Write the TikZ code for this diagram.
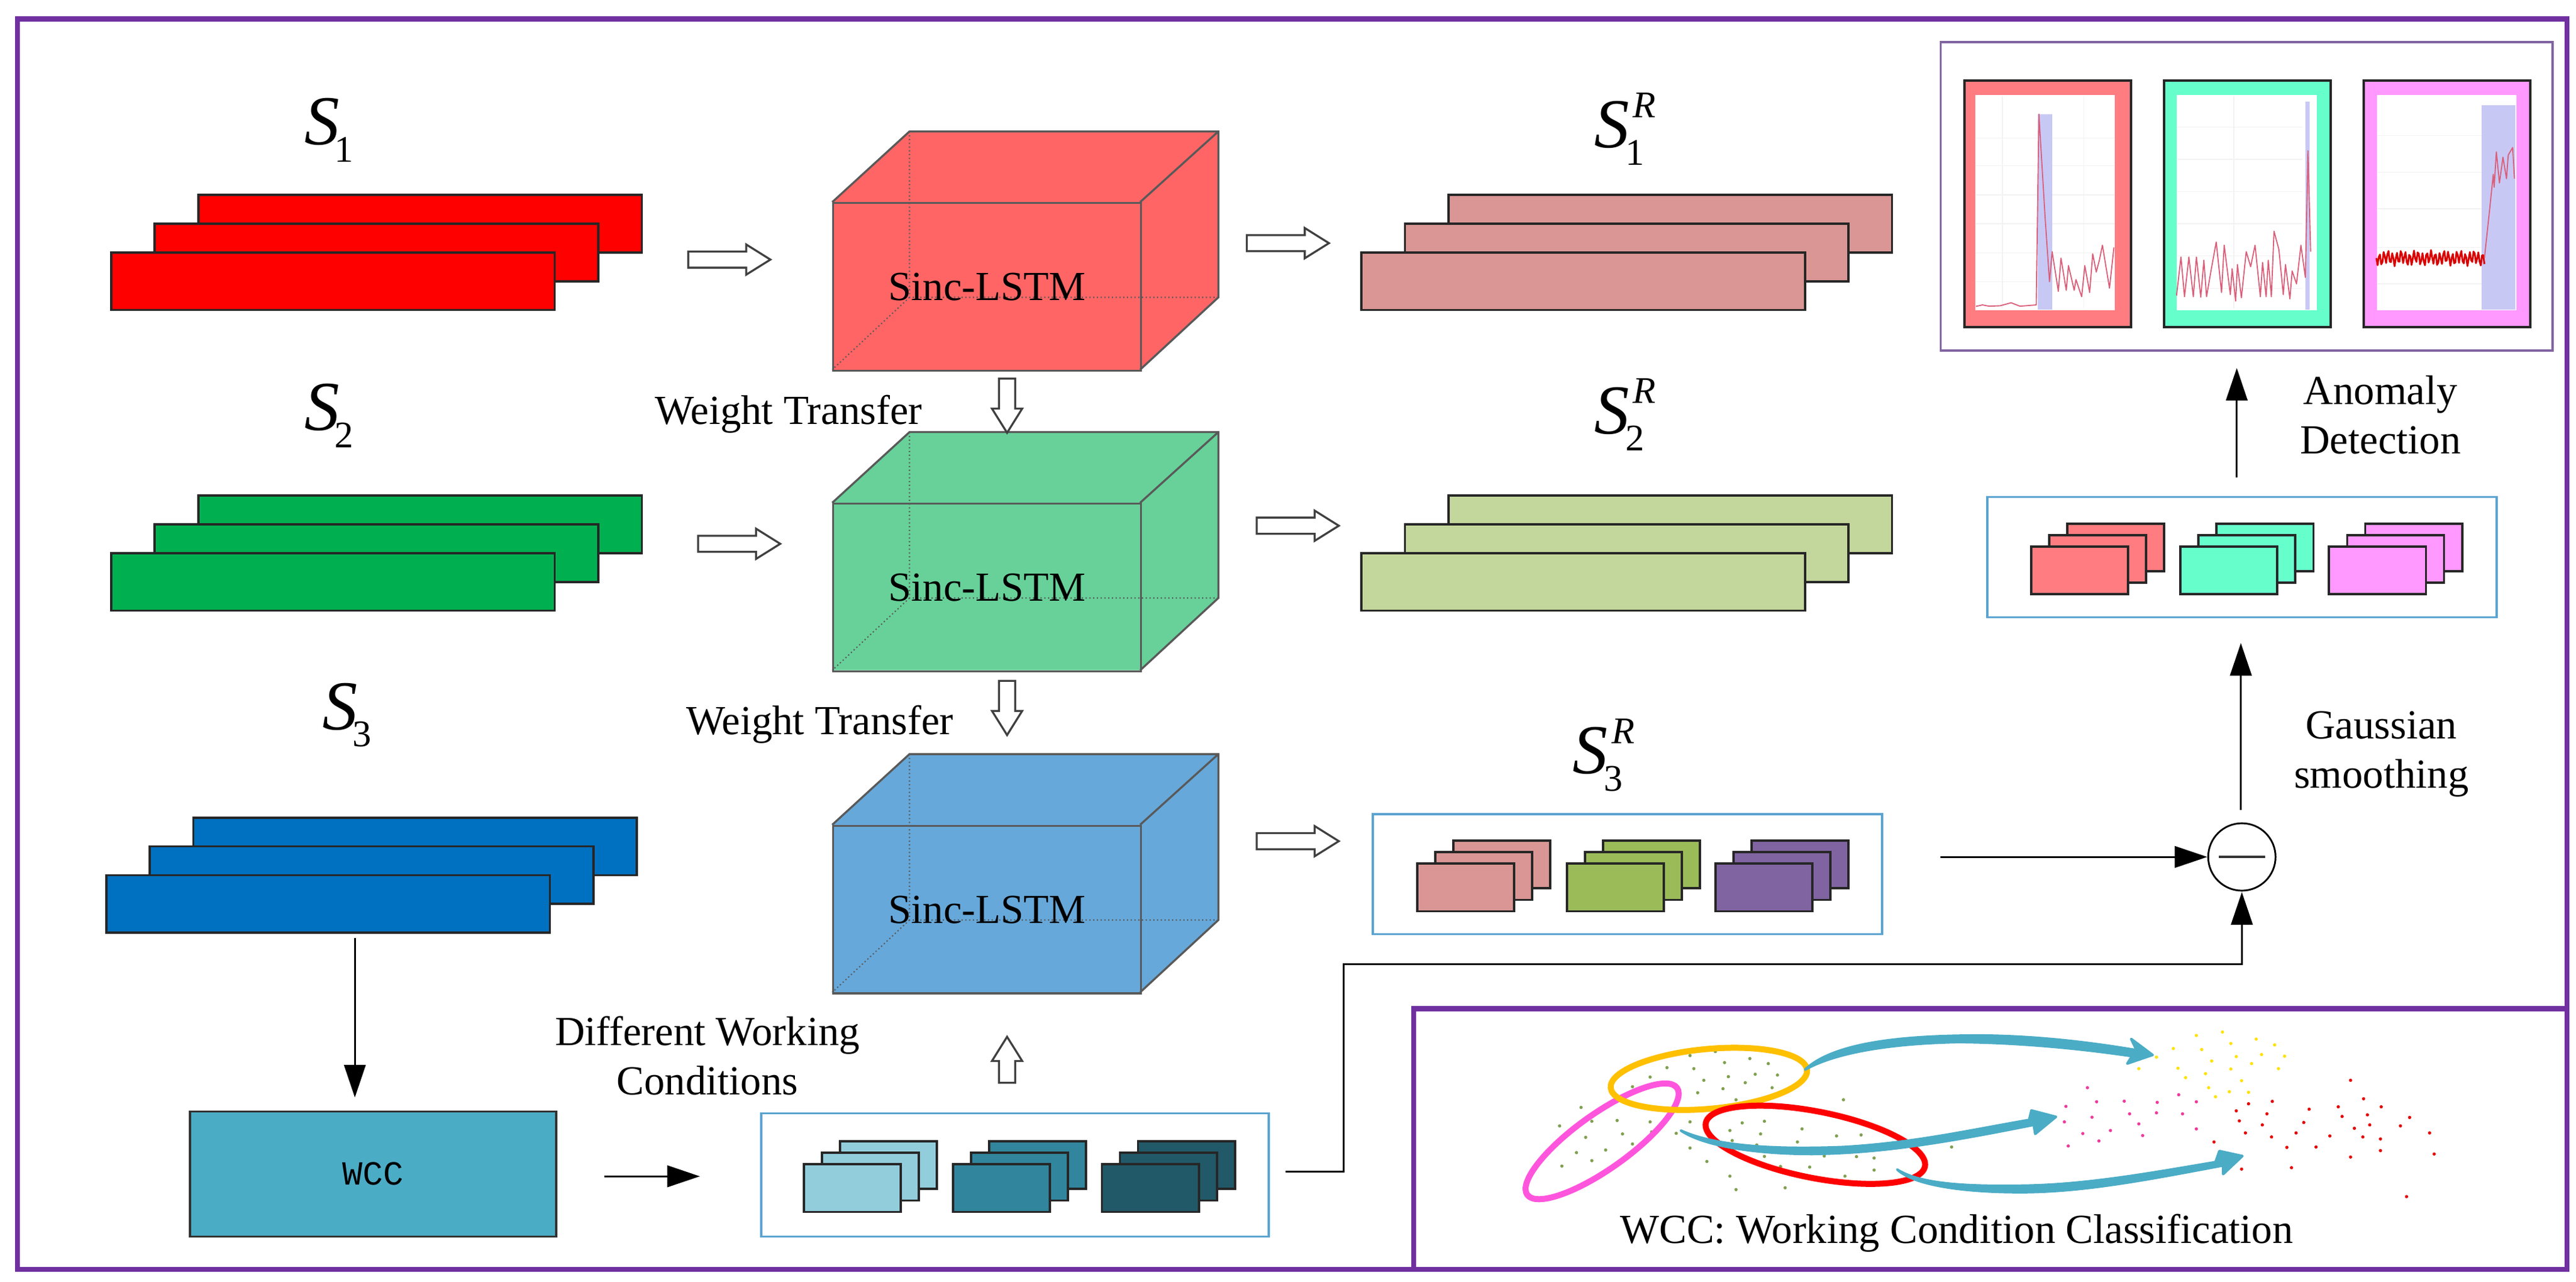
\documentclass[tikz,border=0pt]{standalone}
\usepackage{fontspec}
\setmainfont{Liberation Serif}
\newfontfamily\wccfont{Liberation Mono}
\usetikzlibrary{arrows.meta,shapes.arrows,calc}
\def\uu{0.6557pt}
\definecolor{framepurple}{HTML}{7030A0}
\definecolor{panelpurple}{HTML}{8064A2}
\definecolor{boxblue}{HTML}{5BA3D0}
\definecolor{wteal}{HTML}{4BACC6}
\definecolor{curvecol}{HTML}{D9607A}
\definecolor{hicol}{HTML}{C8C8F5}
\definecolor{dotgreen}{HTML}{7FA050}
\tikzset{
  txt/.style={inner sep=0pt,font=\fontsize{16.5}{18}\selectfont,text=black},
  card/.style={draw=black!85,line width=0.9pt,anchor=north west,inner sep=0pt,minimum width=#1},
  group/.style={draw=boxblue,line width=0.8pt,anchor=north west,inner sep=0pt},
  openarrow/.style={single arrow,draw=black!75,fill=white,line width=0.8pt,inner sep=0pt,
     text height=8.6*\uu,text depth=0pt,single arrow head extend=4.3*\uu,single arrow tip angle=64,
     single arrow head indent=0pt,minimum height=50*\uu},
  arr/.style={draw=black,line width=0.7pt,-{Triangle[length=13pt,width=8.6pt]}},
  gridl/.style={draw=black!5,line width=0.3pt},
  curve/.style={draw=curvecol,line width=0.45pt,line join=round},
  hi/.style={fill=hicol,draw=none},
  ring/.style={draw=#1,line width=2.4pt},
  sym/.style={inner sep=0pt,text=black,anchor=base west},
  flow/.style={fill=wteal,draw=wteal,line width=1pt,line join=round},
  plate/.style={draw=black!85,line width=0.9pt,anchor=north west,inner sep=0pt,minimum width=101.5*\uu,minimum height=150*\uu,fill=#1},
  whitep/.style={fill=white,draw=none,anchor=north west,inner sep=0pt,minimum width=85*\uu,minimum height=131*\uu}
}
\newcommand\widestack[4]{%
  \node[card=270*\uu,minimum height=35*\uu,fill=#4] (#1c) at (#2+53,#3-35) {};
  \node[card=270*\uu,minimum height=35*\uu,fill=#4] (#1b) at (#2+26.5,#3-17.5) {};
  \node[card=270*\uu,minimum height=35*\uu,fill=#4] (#1a) at (#2,#3) {};
}
\newcommand\smallstack[4]{%
  \node[card=59*\uu,minimum height=29*\uu,fill=#4] (#1c) at (#2+22,#3-14) {};
  \node[card=59*\uu,minimum height=29*\uu,fill=#4] (#1b) at (#2+11,#3-7) {};
  \node[card=59*\uu,minimum height=29*\uu,fill=#4] (#1a) at (#2,#3) {};
}
\newcommand\cube[3]{%
  \fill[#3] (506.6,#2+43) -- (553.6,#2) -- (741.6,#2) -- (741.6,#2+101) -- (694,#2+145) -- (506.6,#2+145) -- cycle;
  \draw[black!65,line width=0.5pt,densely dotted] (553.6,#2) -- (553.6,#2+101) -- (741.6,#2+101) (553.6,#2+101) -- (506.6,#2+145);
  \draw[black!65,line width=0.8pt] (506.6,#2+43) -- (553.6,#2) -- (741.6,#2) -- (741.6,#2+101) -- (694,#2+145) (694,#2+43) -- (741.6,#2);
  \node[draw=black!65,line width=0.8pt,anchor=north west,inner sep=0pt,minimum width=187.4*\uu,minimum height=102*\uu,txt] (#1) at (506.6,#2+43) {Sinc-LSTM};
}
\newcommand\Ssub[1]{{\fontsize{28}{30}\selectfont\itshape S}\hspace{-2pt}\raisebox{-6.9pt}{\fontsize{15}{16}\selectfont #1}}
\newcommand\SsubR[1]{{\fontsize{28}{30}\selectfont\itshape S}\rlap{\hspace{-1.5pt}\raisebox{-6.8pt}{\fontsize{15}{16}\selectfont #1}}\raisebox{12.2pt}{\fontsize{15}{16}\selectfont\itshape\hspace{1.5pt}R}}
\begin{document}
\begin{tikzpicture}[x=\uu,y=-\uu]
\useasboundingbox (0,0) rectangle (1568,780);
\fill[white] (0,0) rectangle (1568,780);

% outer frame
\node[draw=framepurple,line width=2pt,anchor=north west,inner sep=0pt,minimum width=1552*\uu,minimum height=761*\uu] (frame) at (9,10) {};

% input stacks
\widestack{ia}{67}{153}{red}
\definecolor{ingreen}{HTML}{00B050}
\definecolor{inblue}{HTML}{0070C0}
\widestack{ib}{67}{336}{ingreen}
\widestack{ic}{64}{532}{inblue}
\node[sym] (s1) at (185,88) {\Ssub{1}};
\node[sym] (s2) at (185,262) {\Ssub{2}};
\node[sym] (s3) at (196,444) {\Ssub{3}};

% cubes
\definecolor{cubered}{HTML}{FF6565}
\definecolor{cubegreen}{HTML}{67D199}
\definecolor{cubeblue}{HTML}{66A8DA}
\cube{c1}{80}{cubered}
\cube{c2}{263}{cubegreen}
\cube{c3}{459}{cubeblue}

% open arrows
\node[openarrow] (oa1) at (440,158) {};
\node[openarrow] (oa2) at (446,331) {};
\node[openarrow] (ob1) at (780,148) {};
\node[openarrow] (ob2) at (786,320) {};
\node[openarrow] (ob3) at (786,512) {};
\node[openarrow,rotate=-90,minimum height=33*\uu] (od1) at (613,243) {};
\node[openarrow,rotate=-90,minimum height=33*\uu] (od2) at (613,427) {};
\node[openarrow,rotate=90,minimum height=28*\uu] (od3) at (613,649) {};

% output stacks
\definecolor{outred}{HTML}{D99694}
\definecolor{outgreen}{HTML}{C3D69B}
\widestack{oa}{828}{153}{outred}
\widestack{ob}{828}{336}{outgreen}
\node[sym] (r1) at (970,90) {\SsubR{1}};
\node[sym] (r2) at (970,264) {\SsubR{2}};
\node[sym] (r3) at (957,471) {\SsubR{3}};

% S3R group
\node[group,minimum width=310*\uu,minimum height=73*\uu] (rgroup) at (835,495) {};
\definecolor{gpink}{HTML}{D99694}
\definecolor{gleaf}{HTML}{9BBB59}
\definecolor{gplum}{HTML}{8064A2}
\smallstack{ra}{862}{525}{gpink}
\smallstack{rb}{953}{525}{gleaf}
\smallstack{rc}{1043.5}{525}{gplum}

% detection group
\node[group,minimum width=310*\uu,minimum height=73*\uu] (dgroup) at (1209,302) {};
\definecolor{dred}{HTML}{FF7C80}
\definecolor{dgreen}{HTML}{66FFCC}
\definecolor{dpink}{HTML}{FF99FF}
\smallstack{da}{1235.7}{332}{dred}
\smallstack{db}{1326.5}{332}{dgreen}
\smallstack{dc}{1417}{332}{dpink}

% conditions group
\node[group,minimum width=309*\uu,minimum height=75*\uu] (cgroup) at (462.7,677) {};
\definecolor{ca}{HTML}{92CDDC}
\definecolor{cb}{HTML}{31859C}
\definecolor{cc}{HTML}{215968}
\smallstack{ca}{488.6}{708}{ca}
\smallstack{cb}{579.4}{708}{cb}
\smallstack{cc}{670}{708}{cc}

% WCC
\node[draw=black!80,fill=wteal,line width=0.8pt,anchor=north west,inner sep=0pt,minimum width=223*\uu,minimum height=76*\uu,font=\wccfont\fontsize{13.5}{15}\selectfont] (wcc) at (115,676) {WCC};

% subtractor
\node[draw=black,fill=white,circle,line width=0.7pt,minimum size=41*\uu,inner sep=0pt] (minus) at (1364.6,521.6) {};
\draw[black!80,line width=1pt] ($(minus.center)+(-14,0)$) coordinate (m1) -- ($(minus.center)+(14,0)$) coordinate (m2);

% connectors
\coordinate (ic0) at (216,571);
\coordinate (ic1) at (216,668);
\draw[arr] (ic0) -- (ic1);
\coordinate (wr0) at (368,716);
\coordinate (wr1) at (426,716);
\draw[arr] (wr0) -- (wr1);
\coordinate (rg0) at (1181,521.6);
\draw[arr] (rg0) -- (minus.west);
\coordinate (cg0) at (782.5,713);
\coordinate (cg1) at (818,713);
\coordinate (cg2) at (818,587);
\coordinate (cg3) at (1364.6,587);
\coordinate (mbot) at (1364.6,543);
\draw[arr,line join=miter] (cg0) -- (cg1) -- (cg2) -- (cg3) -- (mbot);
\coordinate (mt0) at (1364,493);
\coordinate (mt1) at (1364,391.4);
\draw[arr] (mt0) -- (mt1);
\coordinate (dg0) at (1361.5,290.6);
\coordinate (dg1) at (1361.5,224);
\draw[arr] (dg0) -- (dg1);

% labels
\node[txt] (wt1) at (480,252) {Weight Transfer};
\node[txt] (wt2) at (499,441) {Weight Transfer};
\node[txt,align=center,font=\fontsize{16.5}{19.7}\selectfont] (dw) at (430.6,642.5) {Different Working\\Conditions};
\node[txt,align=center,font=\fontsize{16.5}{19.7}\selectfont] (gs) at (1449.5,459) {Gaussian\\smoothing};
\node[txt,align=center,font=\fontsize{16.5}{19.7}\selectfont] (ad) at (1449,252.5) {Anomaly\\Detection};

% anomaly detection panel
\node[draw=panelpurple,line width=0.9pt,anchor=north west,inner sep=0pt,minimum width=372.4*\uu,minimum height=187.7*\uu] (panel) at (1180.6,25) {};
\definecolor{pa}{HTML}{FF7C80}
\definecolor{pb}{HTML}{66FFCC}
\definecolor{pc}{HTML}{FF99FF}
\node[plate=pa] (pa) at (1195,48.4) {};
\node[plate=pb] (pb) at (1316.5,48.4) {};
\node[plate=pc] (pc) at (1438,48.4) {};
\node[whitep] (wa) at (1202,57.5) {};
\node[whitep] (wb) at (1324.8,57.5) {};
\node[whitep] (wc) at (1446.5,57.5) {};
\begin{scope}[shift={(1153,14.64)},x=0.17605pt,y=-0.0857pt]
  \foreach \yy in {530,660,795,930,1065,1200} \draw[gridl] (185,\yy) -- (500,\yy);
  \foreach \xx in {245,430} \draw[gridl] (\xx,335) -- (\xx,1325);
  \foreach \yy in {480,630,780,930,1080,1230} \draw[gridl] (642,\yy) -- (925,\yy);
  \draw[gridl] (770,335) -- (770,1325);
  \foreach \yy in {520,690,860,1040,1210} \draw[gridl] (1095,\yy) -- (1335,\yy);
  \fill[hi] (325,420) rectangle (358,1330);
  \fill[hi] (932,362) rectangle (942,1330);
  \fill[hi] (1332,378) rectangle (1408,1330);
  \draw[curve] (185,1315) -- (200,1308) -- (215,1314) -- (240,1312) -- (265,1298) -- (285,1314) -- (322,1308) -- (328,420) -- (342,900) -- (352,1200) -- (358,1060) -- (372,1245) -- (378,1090) -- (390,1240) -- (395,1125) -- (408,1240) -- (412,1190) -- (425,1270) -- (432,1125) -- (443,1250) -- (450,1070) -- (458,1155) -- (465,1100) -- (472,1030) -- (488,1230) -- (498,1040);
  \draw[curve] (640,1265) -- (650,1085) -- (658,1270) -- (668,1085) -- (678,1270) -- (685,1085) -- (695,1272) -- (702,1100) -- (708,1270) -- (718,1150) -- (730,1015) -- (742,1250) -- (748,1030) -- (762,1260) -- (766,1140) -- (774,1290) -- (778,1120) -- (787,1275) -- (798,1060) -- (808,1130) -- (818,1030) -- (830,1270) -- (835,1110) -- (843,1270) -- (848,1100) -- (855,1270) -- (861,965) -- (872,1050) -- (882,1260) -- (887,1120) -- (897,1280) -- (902,1150) -- (912,1210) -- (922,1030) -- (932,1180) -- (938,590) -- (944,1060);
  \draw[curve,draw=red!85!black,line width=0.7pt] plot[domain=1093:1338,samples=90] (\x,{1090+30*sin((\x-1093)*37)+8*sin((\x-1093)*11)});
  \draw[curve] (1338,1090) -- (1350,860) -- (1358,700) -- (1360,760) -- (1365,595) -- (1372,740) -- (1380,620) -- (1388,720) -- (1392,610) -- (1402,575) -- (1406,720);
\end{scope}

% WCC inset
\node[draw=framepurple,line width=2pt,fill=white,anchor=north west,inner sep=0pt,minimum width=702*\uu,minimum height=158.5*\uu] (inset) at (859,612.5) {};
\node[txt] (wcap) at (1191,750.5) {WCC: Working Condition Classification};
\begin{scope}[shift={(841.9,600.3)},x=0.3062pt,y=-0.0802pt]
  \foreach \a/\b in {400/345,433/325,445/380,478/360,502/385,370/405,405/410,348/452,418/468,450/450,485/438,514/442,472/480,443/510,507/505,325/500,410/530,460/565,600/565,258/603,230/695,272/672,305/668,348/675,400/675,468/680,497/672,312/735,264/752,350/725,452/718,492/735,546/710,591/745,623/740,540/775,455/768,382/732,325/785,290/815,252/828,400/805,487/790,741/800,272/868,233/895,497/847,575/845,617/848,640/855,422/872,518/897,556/900,640/915,602/945,452/945,524/1003,460/1012}
    \fill[dotgreen] (\a,\b) circle[radius=0.65pt];
  \foreach \a/\b in {1060/245,1094/228,1138/263,1162/292,1105/285,1030/310,1067/315,1145/340,1112/350,1175/348,1008/353,1080/372,1132/385,985/410,1036/408,1105/412,1167/410,1072/435,1046/455,1119/470,1076/505,1103/525,1128/528,1085/550}
    \fill[yellow!85!orange] (\a,\b) circle[radius=0.65pt];
  \foreach \a/\b in {918/505,1037/540,930/575,966/572,1009/578,1060/575,890/598,973/635,1008/630,1042/635,924/652,888/675,985/685,948/718,912/733,1060/710,990/743,933/770,893/795}
    \fill[magenta!70!pink] (\a,\b) circle[radius=0.65pt];
  \foreach \a/\b in {1261/468,1278/560,1128/585,1159/573,1207/612,1245/600,1301/600,1112/620,1152/635,1250/648,1283/640,1338/653,1116/670,1200/678,1146/690,1286/690,1326/695,1266/707,1124/730,1190/730,1364/730,1158/750,1234/745,1277/750,1300/760,1083/775,1178/802,1216/800,1300/818,1370/835,1261/850,1184/903,1119/910,1334/1047}
    \fill[red!90!black] (\a,\b) circle[radius=0.65pt];
\end{scope}
\definecolor{ringy}{HTML}{FFC000}
\definecolor{ringm}{HTML}{FF55DD}
\coordinate (ey) at (1040.2,656.7);
\coordinate (em) at (975.3,694.7);
\coordinate (er) at (1105,696.8);
\draw[ring=ringm,rotate around={35.5:(em)}] (em) ellipse (56 and 16.6);
\draw[ring=ringy,rotate around={5.2:(ey)}] (ey) ellipse (60 and 18.2);
\draw[ring=red,rotate around={-11.2:(er)}] (er) ellipse (68 and 20.2);
\begin{scope}[shift={(841.9,600.3)},x=0.3062pt,y=-0.0802pt]
  \path[flow] (550,415) .. controls (590,270) and (690,245) .. (780,245) .. controls (860,248) and (930,285) .. (982,318) -- (975,262) -- (1003,342) -- (970,385) -- (976,348) .. controls (900,305) and (820,280) .. (750,278) .. controls (660,285) and (590,330) .. cycle;
  \path[flow] (388,718) .. controls (420,800) and (490,835) .. (560,835) .. controls (650,830) and (730,780) .. (848,690) -- (850,735) -- (877,650) -- (845,618) -- (842,665) .. controls (760,720) and (690,780) .. (600,800) .. controls (500,815) and (430,790) .. cycle;
  \path[flow] (670,912) .. controls (695,1000) and (770,1028) .. (840,1025) .. controls (920,1020) and (1000,960) .. (1095,892) -- (1095,935) -- (1120,845) -- (1090,820) -- (1085,875) .. controls (1000,930) and (920,985) .. (840,992) .. controls (760,998) and (700,985) .. cycle;
\end{scope}
\end{tikzpicture}
\end{document}
